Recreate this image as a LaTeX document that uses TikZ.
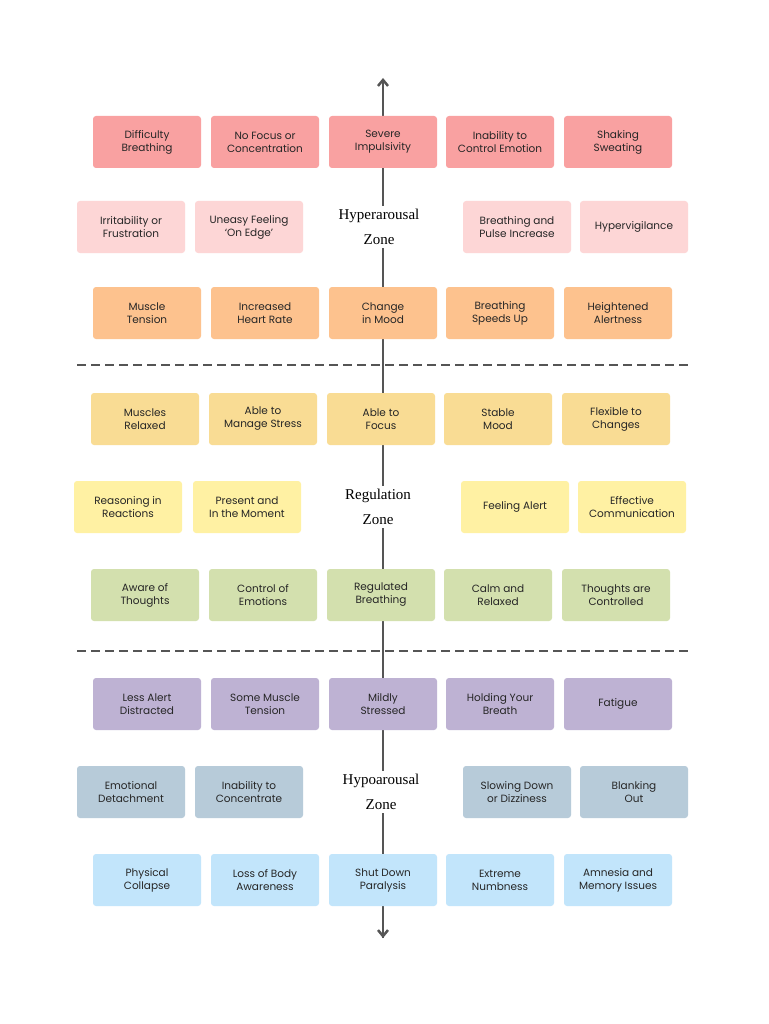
\documentclass[tikz,border=0pt]{standalone}
\usepackage{fontspec}
\setmainfont{Poppins}
\newfontfamily\zonefont{Liberation Serif}
\usetikzlibrary{arrows.meta}
\definecolor{cA}{HTML}{F9A1A1}
\definecolor{cB}{HTML}{FDD6D6}
\definecolor{cC}{HTML}{FDC28E}
\definecolor{cD}{HTML}{F9DC94}
\definecolor{cE}{HTML}{FFF1A3}
\definecolor{cF}{HTML}{D3E0AE}
\definecolor{cG}{HTML}{BEB2D3}
\definecolor{cH}{HTML}{B7CBD9}
\definecolor{cI}{HTML}{C2E5FB}
\definecolor{ln}{HTML}{555555}
\begin{document}
\begin{tikzpicture}[x=1pt,y=-1pt,
 box/.style={rounded corners=3pt,minimum width=108pt,minimum height=52pt,align=center,font=\fontsize{10.5}{13}\selectfont,text=black!85},
 zone/.style={fill=white,align=center,font=\zonefont\fontsize{15}{25}\selectfont,inner sep=3pt}]
\useasboundingbox (0,0) rectangle (768,1024);
\fill[white] (0,0) rectangle (768,1024);
\coordinate (top) at (383,78);
\coordinate (bot) at (383,938);
\draw[ln,line width=2.5pt,-{Straight Barb[length=6pt,width=10pt]}] (bot) -- (top);
\draw[ln,line width=2.5pt,-{Straight Barb[length=6pt,width=10pt]}] (383,900) -- (bot);
\coordinate (d1a) at (77,365); \coordinate (d1b) at (688,365);
\coordinate (d2a) at (77,651); \coordinate (d2b) at (688,651);
\draw[ln,line width=2pt,dash pattern=on 9pt off 5pt] (d1a) -- (d1b);
\draw[ln,line width=2pt,dash pattern=on 9pt off 5pt] (d2a) -- (d2b);
% row 1
\node[box,fill=cA] (a1) at (147,142) {Difficulty\\Breathing};
\node[box,fill=cA] (a2) at (265,142) {No Focus or\\Concentration};
\node[box,fill=cA] (a3) at (383,142) {Severe\\Impulsivity};
\node[box,fill=cA] (a4) at (500,142) {Inability to\\Control Emotion};
\node[box,fill=cA] (a5) at (618,142) {Shaking\\Sweating};
% row 2
\node[box,fill=cB] (b1) at (131,227) {Irritability or\\Frustration};
\node[box,fill=cB] (b2) at (249,227) {Uneasy Feeling\\‘On Edge’};
\node[zone] (z1) at (379,227) {Hyperarousal\\Zone};
\node[box,fill=cB] (b4) at (517,227) {Breathing and\\Pulse Increase};
\node[box,fill=cB] (b5) at (634,227) {Hypervigilance};
% row 3
\node[box,fill=cC] (c1) at (147,313) {Muscle\\Tension};
\node[box,fill=cC] (c2) at (265,313) {Increased\\Heart Rate};
\node[box,fill=cC] (c3) at (383,313) {Change\\in Mood};
\node[box,fill=cC] (c4) at (500,313) {Breathing\\Speeds Up};
\node[box,fill=cC] (c5) at (618,313) {Heightened\\Alertness};
% row 4
\node[box,fill=cD] (d1) at (145,419) {Muscles\\Relaxed};
\node[box,fill=cD] (d2) at (263,419) {Able to\\Manage Stress};
\node[box,fill=cD] (d3) at (381,419) {Able to\\Focus};
\node[box,fill=cD] (d4) at (498,419) {Stable\\Mood};
\node[box,fill=cD] (d5) at (616,419) {Flexible to\\Changes};
% row 5
\node[box,fill=cE] (e1) at (128,507) {Reasoning in\\Reactions};
\node[box,fill=cE] (e2) at (247,507) {Present and\\In the Moment};
\node[zone] (z2) at (378,507) {Regulation\\Zone};
\node[box,fill=cE] (e4) at (515,507) {Feeling Alert};
\node[box,fill=cE] (e5) at (632,507) {Effective\\Communication};
% row 6
\node[box,fill=cF] (f1) at (145,595) {Aware of\\Thoughts};
\node[box,fill=cF] (f2) at (263,595) {Control of\\Emotions};
\node[box,fill=cF] (f3) at (381,595) {Regulated\\Breathing};
\node[box,fill=cF] (f4) at (498,595) {Calm and\\Relaxed};
\node[box,fill=cF] (f5) at (616,595) {Thoughts are\\Controlled};
% row 7
\node[box,fill=cG] (g1) at (147,704) {Less Alert\\Distracted};
\node[box,fill=cG] (g2) at (265,704) {Some Muscle\\Tension};
\node[box,fill=cG] (g3) at (383,704) {Mildly\\Stressed};
\node[box,fill=cG] (g4) at (500,704) {Holding Your\\Breath};
\node[box,fill=cG] (g5) at (618,704) {Fatigue};
% row 8
\node[box,fill=cH] (h1) at (131,792) {Emotional\\Detachment};
\node[box,fill=cH] (h2) at (249,792) {Inability to\\Concentrate};
\node[zone] (z3) at (381,792) {Hypoarousal\\Zone};
\node[box,fill=cH] (h4) at (517,792) {Slowing Down\\or Dizziness};
\node[box,fill=cH] (h5) at (634,792) {Blanking\\Out};
% row 9
\node[box,fill=cI] (i1) at (147,880) {Physical\\Collapse};
\node[box,fill=cI] (i2) at (265,880) {Loss of Body\\Awareness};
\node[box,fill=cI] (i3) at (383,880) {Shut Down\\Paralysis};
\node[box,fill=cI] (i4) at (500,880) {Extreme\\Numbness};
\node[box,fill=cI] (i5) at (618,880) {Amnesia and\\Memory Issues};
\end{tikzpicture}
\end{document}
